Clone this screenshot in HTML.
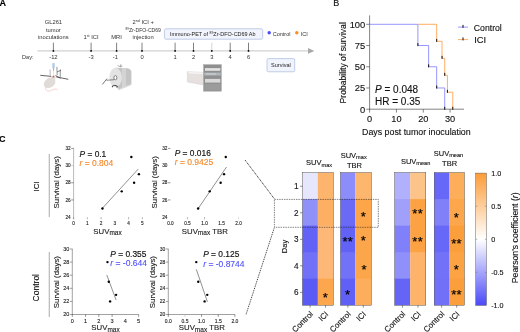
<!DOCTYPE html>
<html lang="en"><head><meta charset="utf-8"><title>Figure</title>
<style>html,body{margin:0;padding:0;background:#fff;}svg{display:block;filter:blur(0.4px);}text{font-family:"Liberation Sans", sans-serif;}</style>
</head><body>
<svg width="520" height="332" viewBox="0 0 520 332">
<rect width="520" height="332" fill="#fff"/>
<g id="panelA">
<text x="-0.5" y="6.0" font-size="9" text-anchor="start" fill="#000" font-weight="bold" stroke="#000" stroke-width="0.15">A</text>
<line x1="37.5" y1="50.9" x2="308.5" y2="50.9" stroke="#adadad" stroke-width="0.7"/>
<path d="M308 48 L314.4 50.9 L308 53.8 Z" fill="#a9a9a9"/>
<line x1="53.4" y1="42.7" x2="53.4" y2="50.9" stroke="#000" stroke-width="0.5"/>
<circle cx="53.4" cy="50.9" r="0.9" fill="#000"/>
<text x="53.4" y="58.6" font-size="5.8" text-anchor="middle" fill="#333">-12</text>
<line x1="91.1" y1="42.7" x2="91.1" y2="50.9" stroke="#000" stroke-width="0.5"/>
<circle cx="91.1" cy="50.9" r="0.9" fill="#000"/>
<text x="91.1" y="58.6" font-size="5.8" text-anchor="middle" fill="#333">-3</text>
<line x1="116.6" y1="42.7" x2="116.6" y2="50.9" stroke="#000" stroke-width="0.5"/>
<circle cx="116.6" cy="50.9" r="0.9" fill="#000"/>
<text x="115.4" y="58.6" font-size="5.8" text-anchor="middle" fill="#333">-1</text>
<line x1="142" y1="42.7" x2="142" y2="50.9" stroke="#000" stroke-width="0.5"/>
<circle cx="142" cy="50.9" r="0.9" fill="#000"/>
<text x="142" y="58.6" font-size="5.8" text-anchor="middle" fill="#333">0</text>
<line x1="175.1" y1="42.7" x2="175.1" y2="50.9" stroke="#000" stroke-width="0.5"/>
<circle cx="175.1" cy="50.9" r="0.9" fill="#000"/>
<text x="175.1" y="58.6" font-size="5.8" text-anchor="middle" fill="#333">1</text>
<line x1="193.5" y1="42.7" x2="193.5" y2="50.9" stroke="#000" stroke-width="0.5"/>
<circle cx="193.5" cy="50.9" r="0.9" fill="#000"/>
<text x="193.5" y="58.6" font-size="5.8" text-anchor="middle" fill="#333">2</text>
<line x1="211.8" y1="42.7" x2="211.8" y2="50.9" stroke="#aaa" stroke-width="0.5"/>
<circle cx="211.8" cy="50.9" r="0.9" fill="#000"/>
<text x="211.8" y="58.6" font-size="5.8" text-anchor="middle" fill="#333">3</text>
<line x1="230.2" y1="42.7" x2="230.2" y2="50.9" stroke="#000" stroke-width="0.5"/>
<circle cx="230.2" cy="50.9" r="0.9" fill="#000"/>
<text x="230.2" y="58.6" font-size="5.8" text-anchor="middle" fill="#333">4</text>
<line x1="248.5" y1="42.7" x2="248.5" y2="50.9" stroke="#000" stroke-width="0.5"/>
<circle cx="248.5" cy="50.9" r="0.9" fill="#000"/>
<text x="248.5" y="58.6" font-size="5.8" text-anchor="middle" fill="#333">6</text>
<text x="27.8" y="58.8" font-size="5.6" text-anchor="middle" fill="#333">Day:</text>
<text x="53.4" y="24.1" font-size="5.8" text-anchor="middle" fill="#333">GL261</text>
<text x="53.4" y="31.65" font-size="5.8" text-anchor="middle" fill="#333">tumor</text>
<text x="53.4" y="39.2" font-size="5.8" text-anchor="middle" fill="#333">inoculations</text>
<text x="91.1" y="39.2" font-size="5.8" text-anchor="middle" fill="#333">1<tspan font-size="3.6" dy="-2">st</tspan><tspan dy="2"> ICI</tspan></text>
<text x="116.6" y="39.2" font-size="5.8" text-anchor="middle" fill="#333">MRI</text>
<text x="143.2" y="24.1" font-size="5.8" text-anchor="middle" fill="#333">2<tspan font-size="3.6" dy="-2">nd</tspan><tspan dy="2"> ICI +</tspan></text>
<text x="143.2" y="31.65" font-size="5.8" text-anchor="middle" fill="#333" textLength="35.5" lengthAdjust="spacingAndGlyphs"><tspan font-size="3.6" dy="-2">89</tspan><tspan dy="2">Zr-DFO-CD69</tspan></text>
<text x="143.2" y="39.2" font-size="5.8" text-anchor="middle" fill="#333">injection</text>
<rect x="164.4" y="28.8" width="98.3" height="10.4" rx="1.6" fill="#f1f4fc" stroke="#a9badf" stroke-width="0.7"/>
<text x="170" y="36.2" font-size="5.8" text-anchor="start" fill="#222" textLength="85.5" lengthAdjust="spacingAndGlyphs">Immuno-PET of <tspan font-size="3.6" dy="-2">89</tspan><tspan dy="2">Zr-DFO-CD69 Ab</tspan></text>
<circle cx="269.2" cy="32.7" r="1.7" fill="#4a4aff"/>
<text x="272.7" y="35.6" font-size="5.5" text-anchor="start" fill="#333">Control</text>
<circle cx="296.8" cy="32.7" r="1.7" fill="#ff8a1f"/>
<text x="300.8" y="35.6" font-size="5.5" text-anchor="start" fill="#333">ICI</text>
<rect x="267" y="58.6" width="27.7" height="13.2" rx="1.4" fill="#f1f4fc" stroke="#a9badf" stroke-width="0.7"/>
<text x="280.9" y="67.2" font-size="5.5" text-anchor="middle" fill="#222">Survival</text>
<g id="mouse">
<path d="M45.4 87.2 C45.2 91.5,49 91.8,51.5 90.3 S56 88.8,57.6 89.8" stroke="#e9a59b" stroke-width="0.5" fill="none"/>
<ellipse cx="49.6" cy="82.8" rx="6.3" ry="4.7" fill="#e0dbd7" transform="rotate(-35 49.6 82.8)"/>
<ellipse cx="53.3" cy="78" rx="2.2" ry="2.6" fill="#e2ddd9" transform="rotate(20 53.3 78)"/>
<line x1="40.3" y1="75.3" x2="51.2" y2="76.4" stroke="#3c3c3c" stroke-width="0.8"/>
<line x1="56.3" y1="76.9" x2="68.3" y2="79.3" stroke="#3c3c3c" stroke-width="0.8"/>
<line x1="50" y1="69.4" x2="50.3" y2="75.8" stroke="#b9b9b9" stroke-width="1.0"/>
<line x1="56.9" y1="66.8" x2="57.2" y2="75.2" stroke="#9a9a9a" stroke-width="1.0"/>
<line x1="60.4" y1="69.4" x2="60.2" y2="77.4" stroke="#8a8a8a" stroke-width="0.9"/>
<line x1="57" y1="72" x2="61" y2="70.3" stroke="#555" stroke-width="0.7"/>
<line x1="55.5" y1="75.5" x2="60.5" y2="78.3" stroke="#444" stroke-width="0.8"/>
<rect x="52.4" y="63.1" width="2.2" height="5.3" fill="#a9c7e6"/>
<line x1="53.5" y1="68.3" x2="53.5" y2="70.8" stroke="#2a9d7a" stroke-width="0.6"/>
<line x1="53.5" y1="70.8" x2="53.5" y2="75.5" stroke="#c9c9c9" stroke-width="0.4"/>
<circle cx="53.4" cy="76.7" r="0.9" fill="#e2574c"/>
</g>
<g id="mri">
<path d="M115.6 67.8 L127.5 68.2 Q131.3 69.2 131.4 72 L131.4 84.6 L119.5 89.5 L115.6 87.2 Z" fill="#c4c4c4"/>
<path d="M122 68 L126 68.2 L126 86.5 L122 88 Z" fill="#d4d4d4"/>
<path d="M118.5 89.6 L130.6 84.6" stroke="#d9d9d9" stroke-width="1.2" fill="none"/>
<ellipse cx="115.6" cy="77.5" rx="6.3" ry="9.7" fill="#e3e3e3"/>
<ellipse cx="115.4" cy="77.7" rx="1.5" ry="2.1" fill="#fff" stroke="#3a3a3a" stroke-width="0.6"/>
<line x1="102.4" y1="84.4" x2="107" y2="78.6" stroke="#3a3a3a" stroke-width="0.7"/>
<line x1="106.4" y1="80.3" x2="114.2" y2="79.7" stroke="#3a3a3a" stroke-width="0.6"/>
<path d="M112.4 87.3 L112.4 86 Q114.8 84.8 117.2 86 L117.2 87.3" stroke="#333" stroke-width="0.9" fill="none"/>
<path d="M117.6 65.3 L119.6 66.6 M120.8 64.3 L120.8 67.3 M119.4 66.2 L122.4 66.2" stroke="#777" stroke-width="0.6" fill="none"/>
</g>
<g id="pet">
<path d="M187.4 71.7 L203.6 72.3 L203.6 84.9 L187.4 82 Z" fill="#e6e0df" stroke="#cbc5c4" stroke-width="0.4"/>
<path d="M187.6 72 L203.6 72.6 L203.6 74 L189.5 73.4 Z" fill="#f7f5f5"/>
<rect x="203.5" y="64.6" width="17.9" height="26.6" fill="#8f8f8f"/>
<rect x="203.5" y="64.6" width="17.9" height="26.6" fill="none" stroke="#a9a9a9" stroke-width="0.5"/>
<rect x="205" y="68.1" width="15.3" height="2.7" fill="#e3e3e3"/>
<rect x="204.2" y="72.6" width="16.6" height="2.9" fill="#aeb6ba"/>
<rect x="206" y="73.3" width="10" height="1.3" fill="#c9cdd0"/>
<rect x="205" y="78.9" width="15.3" height="3.7" fill="#d9d9d9"/>
<rect x="204.4" y="83.8" width="16.2" height="6.9" fill="#9b9b9b"/>
</g>
</g>
<g id="panelB">
<text x="333.2" y="6.3" font-size="9" text-anchor="start" fill="#111" stroke="#111" stroke-width="0.12">B</text>
<line x1="369.6" y1="15.4" x2="369.6" y2="109.5" stroke="#333" stroke-width="0.6"/>
<line x1="369.3" y1="109.2" x2="464" y2="109.2" stroke="#333" stroke-width="0.6"/>
<line x1="366.20000000000005" y1="109.2" x2="369.6" y2="109.2" stroke="#333" stroke-width="0.6"/>
<text x="365.3" y="112.55" font-size="9.4" text-anchor="end" fill="#111" stroke="#111" stroke-width="0.12">0</text>
<line x1="366.20000000000005" y1="87.97500000000001" x2="369.6" y2="87.97500000000001" stroke="#333" stroke-width="0.6"/>
<text x="365.3" y="91.33" font-size="9.4" text-anchor="end" fill="#111" stroke="#111" stroke-width="0.12">25</text>
<line x1="366.20000000000005" y1="66.75" x2="369.6" y2="66.75" stroke="#333" stroke-width="0.6"/>
<text x="365.3" y="70.1" font-size="9.4" text-anchor="end" fill="#111" stroke="#111" stroke-width="0.12">50</text>
<line x1="366.20000000000005" y1="45.525000000000006" x2="369.6" y2="45.525000000000006" stroke="#333" stroke-width="0.6"/>
<text x="365.3" y="48.88" font-size="9.4" text-anchor="end" fill="#111" stroke="#111" stroke-width="0.12">75</text>
<line x1="366.20000000000005" y1="24.30000000000001" x2="369.6" y2="24.30000000000001" stroke="#333" stroke-width="0.6"/>
<text x="365.3" y="27.65" font-size="9.4" text-anchor="end" fill="#111" stroke="#111" stroke-width="0.12">100</text>
<line x1="369.6" y1="109.2" x2="369.6" y2="112.60000000000001" stroke="#333" stroke-width="0.6"/>
<text x="369.6" y="122.0" font-size="9.2" text-anchor="middle" fill="#111" stroke="#111" stroke-width="0.12">0</text>
<line x1="396.43" y1="109.2" x2="396.43" y2="112.60000000000001" stroke="#333" stroke-width="0.6"/>
<text x="396.43" y="122.0" font-size="9.2" text-anchor="middle" fill="#111" stroke="#111" stroke-width="0.12">10</text>
<line x1="423.26" y1="109.2" x2="423.26" y2="112.60000000000001" stroke="#333" stroke-width="0.6"/>
<text x="423.26" y="122.0" font-size="9.2" text-anchor="middle" fill="#111" stroke="#111" stroke-width="0.12">20</text>
<line x1="450.09000000000003" y1="109.2" x2="450.09000000000003" y2="112.60000000000001" stroke="#333" stroke-width="0.6"/>
<text x="450.09" y="122.0" font-size="9.2" text-anchor="middle" fill="#111" stroke="#111" stroke-width="0.12">30</text>
<polyline fill="none" stroke="#ff9a3c" stroke-width="0.8" points="418.16,24.30 436.68,24.30 436.68,41.28 442.04,41.28 442.04,58.26 444.72,58.26 444.72,75.24 447.41,75.24 447.41,92.22 452.77,92.22 452.77,109.20"/>
<polyline fill="none" stroke="#7c7cff" stroke-width="0.8" points="369.60,24.30 417.89,24.30 417.89,45.53 428.63,45.53 428.63,66.75 436.68,66.75 436.68,87.98 444.72,87.98 444.72,109.20"/>
<rect x="417.39" y="43.13" width="1" height="3" fill="#111"/>
<rect x="428.13" y="64.35" width="1" height="3" fill="#111"/>
<rect x="436.18" y="85.58" width="1" height="3" fill="#111"/>
<rect x="444.22" y="106.80" width="1" height="3" fill="#111"/>
<rect x="436.18" y="38.88" width="1" height="3" fill="#111"/>
<rect x="441.54" y="55.86" width="1" height="3" fill="#111"/>
<rect x="444.22" y="72.84" width="1" height="3" fill="#111"/>
<rect x="446.91" y="89.82" width="1" height="3" fill="#111"/>
<rect x="452.27" y="106.80" width="1" height="3" fill="#111"/>
<line x1="458" y1="27.1" x2="468" y2="27.1" stroke="#7c7cff" stroke-width="0.8"/>
<rect x="462.5" y="24.9" width="1" height="3" fill="#111"/>
<line x1="458" y1="39.6" x2="468" y2="39.6" stroke="#ff9a3c" stroke-width="0.8"/>
<rect x="462.5" y="37.4" width="1" height="3" fill="#111"/>
<text x="473.8" y="30.5" font-size="8.7" text-anchor="start" fill="#111" stroke="#111" stroke-width="0.12">Control</text>
<text x="474.2" y="42.9" font-size="8.7" text-anchor="start" fill="#111" textLength="12" lengthAdjust="spacingAndGlyphs" stroke="#111" stroke-width="0.12">ICI</text>
<text x="375" y="92.8" font-size="10" text-anchor="start" fill="#111" stroke="#111" stroke-width="0.12"><tspan font-style="italic">P</tspan> = 0.048</text>
<text x="375" y="104.5" font-size="10" text-anchor="start" fill="#111" stroke="#111" stroke-width="0.12">HR = 0.35</text>
<text x="0" y="0" font-size="8.6" text-anchor="middle" fill="#111" transform="translate(346,62.8) rotate(-90)" stroke="#111" stroke-width="0.12">Probability of survival</text>
<text x="416.4" y="134.5" font-size="8.8" text-anchor="middle" fill="#111" stroke="#111" stroke-width="0.12">Days post tumor inoculation</text>
</g>
<g id="panelC">
<text x="-1.0" y="142.4" font-size="9" text-anchor="start" fill="#000" font-weight="bold" stroke="#000" stroke-width="0.12">C</text>
<text x="0" y="0" font-size="8" text-anchor="middle" fill="#111" transform="translate(39.1,186.3) rotate(-90)" stroke="#111" stroke-width="0.12">ICI</text>
<line x1="49.25" y1="154" x2="49.25" y2="217" stroke="#555" stroke-width="0.5"/>
<text x="0" y="0" font-size="8.5" text-anchor="middle" fill="#111" transform="translate(39,287.7) rotate(-90)" stroke="#111" stroke-width="0.12">Control</text>
<line x1="49.25" y1="252" x2="49.25" y2="317" stroke="#555" stroke-width="0.5"/>
<line x1="73.6" y1="148.15" x2="73.6" y2="219.2" stroke="#777" stroke-width="0.5"/>
<text x="70.6" y="218.79" font-size="4.7" text-anchor="end" fill="#222" stroke="#222" stroke-width="0.12">24</text>
<line x1="71.19999999999999" y1="199.925" x2="73.6" y2="199.925" stroke="#2a2a2a" stroke-width="0.5"/>
<text x="70.6" y="201.62" font-size="4.7" text-anchor="end" fill="#222" stroke="#222" stroke-width="0.12">26</text>
<line x1="71.19999999999999" y1="182.75" x2="73.6" y2="182.75" stroke="#2a2a2a" stroke-width="0.5"/>
<text x="70.6" y="184.44" font-size="4.7" text-anchor="end" fill="#222" stroke="#222" stroke-width="0.12">28</text>
<line x1="71.19999999999999" y1="165.575" x2="73.6" y2="165.575" stroke="#aaa" stroke-width="0.5"/>
<text x="70.6" y="167.27" font-size="4.7" text-anchor="end" fill="#222" stroke="#222" stroke-width="0.12">30</text>
<line x1="71.19999999999999" y1="148.4" x2="73.6" y2="148.4" stroke="#2a2a2a" stroke-width="0.5"/>
<text x="70.6" y="150.09" font-size="4.7" text-anchor="end" fill="#222" stroke="#222" stroke-width="0.12">32</text>
<line x1="73.6" y1="217.0" x2="73.6" y2="219.39999999999998" stroke="#777" stroke-width="0.5"/>
<text x="73.6" y="224.5" font-size="4.7" text-anchor="middle" fill="#222" stroke="#222" stroke-width="0.12">0</text>
<line x1="87.35" y1="217.0" x2="87.35" y2="219.39999999999998" stroke="#777" stroke-width="0.5"/>
<text x="87.35" y="224.5" font-size="4.7" text-anchor="middle" fill="#222" stroke="#222" stroke-width="0.12">1</text>
<line x1="101.1" y1="217.0" x2="101.1" y2="219.39999999999998" stroke="#777" stroke-width="0.5"/>
<text x="101.1" y="224.5" font-size="4.7" text-anchor="middle" fill="#222" stroke="#222" stroke-width="0.12">2</text>
<text x="114.85" y="224.5" font-size="4.7" text-anchor="middle" fill="#222" stroke="#222" stroke-width="0.12">3</text>
<line x1="128.6" y1="217.0" x2="128.6" y2="219.39999999999998" stroke="#777" stroke-width="0.5"/>
<text x="128.6" y="224.5" font-size="4.7" text-anchor="middle" fill="#222" stroke="#222" stroke-width="0.12">4</text>
<line x1="142.35" y1="217.0" x2="142.35" y2="219.39999999999998" stroke="#777" stroke-width="0.5"/>
<text x="142.35" y="224.5" font-size="4.7" text-anchor="middle" fill="#222" stroke="#222" stroke-width="0.12">5</text>
<line x1="101.6" y1="209.1" x2="138.2" y2="169.1" stroke="#222" stroke-width="0.5"/>
<circle cx="102.47" cy="208.51" r="1.2" fill="#000"/>
<circle cx="121.72" cy="191.34" r="1.2" fill="#000"/>
<circle cx="134.10" cy="182.75" r="1.2" fill="#000"/>
<circle cx="138.91" cy="174.16" r="1.2" fill="#000"/>
<circle cx="131.35" cy="156.99" r="1.2" fill="#000"/>
<text x="107.5" y="233.6" font-size="7.8" text-anchor="middle" fill="#222" stroke="#222" stroke-width="0.12">SUV<tspan font-size="6.5" dy="1.6">max</tspan></text>
<text x="79.5" y="157.3" font-size="8.4" text-anchor="start" fill="#111" stroke="#111" stroke-width="0.15"><tspan font-style="italic">P</tspan> = 0.1</text>
<text x="79.5" y="166" font-size="8.5" text-anchor="start" fill="#f5882a" stroke="#f5882a" stroke-width="0.12"><tspan font-style="italic">r</tspan> = 0.804</text>
<text x="0" y="0" font-size="7.9" text-anchor="middle" fill="#222" transform="translate(59.0,182.3) rotate(-90)" stroke="#222" stroke-width="0.12">Survival (days)</text>
<text x="167.4" y="218.79" font-size="4.7" text-anchor="end" fill="#222" stroke="#222" stroke-width="0.12">24</text>
<line x1="168.0" y1="199.925" x2="170.4" y2="199.925" stroke="#2a2a2a" stroke-width="0.5"/>
<text x="167.4" y="201.62" font-size="4.7" text-anchor="end" fill="#222" stroke="#222" stroke-width="0.12">26</text>
<line x1="168.0" y1="182.75" x2="170.4" y2="182.75" stroke="#2a2a2a" stroke-width="0.5"/>
<text x="167.4" y="184.44" font-size="4.7" text-anchor="end" fill="#222" stroke="#222" stroke-width="0.12">28</text>
<text x="167.4" y="167.27" font-size="4.7" text-anchor="end" fill="#222" stroke="#222" stroke-width="0.12">30</text>
<line x1="168.0" y1="148.4" x2="170.4" y2="148.4" stroke="#2a2a2a" stroke-width="0.5"/>
<text x="167.4" y="150.09" font-size="4.7" text-anchor="end" fill="#222" stroke="#222" stroke-width="0.12">32</text>
<text x="170.4" y="224.5" font-size="4.7" text-anchor="middle" fill="#222" stroke="#222" stroke-width="0.12">0.0</text>
<line x1="187.45000000000002" y1="217.0" x2="187.45000000000002" y2="219.39999999999998" stroke="#777" stroke-width="0.5"/>
<text x="187.45" y="224.5" font-size="4.7" text-anchor="middle" fill="#222" stroke="#222" stroke-width="0.12">0.5</text>
<line x1="204.5" y1="217.0" x2="204.5" y2="219.39999999999998" stroke="#777" stroke-width="0.5"/>
<text x="204.5" y="224.5" font-size="4.7" text-anchor="middle" fill="#222" stroke="#222" stroke-width="0.12">1.0</text>
<text x="221.55" y="224.5" font-size="4.7" text-anchor="middle" fill="#222" stroke="#222" stroke-width="0.12">1.5</text>
<line x1="238.60000000000002" y1="217.0" x2="238.60000000000002" y2="219.39999999999998" stroke="#bbb" stroke-width="0.5"/>
<text x="238.6" y="224.5" font-size="4.7" text-anchor="middle" fill="#222" stroke="#222" stroke-width="0.12">2.0</text>
<line x1="197.8" y1="209.1" x2="226.5" y2="167" stroke="#222" stroke-width="0.5"/>
<circle cx="198.14" cy="208.51" r="1.2" fill="#000"/>
<circle cx="209.73" cy="191.34" r="1.2" fill="#000"/>
<circle cx="220.65" cy="182.75" r="1.2" fill="#000"/>
<circle cx="224.06" cy="174.16" r="1.2" fill="#000"/>
<circle cx="225.76" cy="156.99" r="1.2" fill="#000"/>
<text x="204.8" y="233.6" font-size="7.8" text-anchor="middle" fill="#222" stroke="#222" stroke-width="0.12">SUV<tspan font-size="6.5" dy="1.6">max</tspan><tspan dy="-1.6"> TBR</tspan></text>
<text x="174.7" y="155.6" font-size="8.4" text-anchor="start" fill="#111" stroke="#111" stroke-width="0.15"><tspan font-style="italic">P</tspan> = 0.016</text>
<text x="174.7" y="164.7" font-size="8.5" text-anchor="start" fill="#f5882a" stroke="#f5882a" stroke-width="0.12"><tspan font-style="italic">r</tspan> = 0.9425</text>
<text x="0" y="0" font-size="7.9" text-anchor="middle" fill="#222" transform="translate(156.5,182.3) rotate(-90)" stroke="#222" stroke-width="0.12">Survival (days)</text>
<line x1="72.3" y1="248.75" x2="72.3" y2="314.75" stroke="#444" stroke-width="0.5"/>
<line x1="69.89999999999999" y1="314.5" x2="72.3" y2="314.5" stroke="#444" stroke-width="0.5"/>
<text x="69.3" y="316.48" font-size="5.5" text-anchor="end" fill="#222" stroke="#222" stroke-width="0.12">20</text>
<line x1="69.89999999999999" y1="301.4" x2="72.3" y2="301.4" stroke="#444" stroke-width="0.5"/>
<text x="69.3" y="303.38" font-size="5.5" text-anchor="end" fill="#222" stroke="#222" stroke-width="0.12">22</text>
<line x1="69.89999999999999" y1="288.3" x2="72.3" y2="288.3" stroke="#444" stroke-width="0.5"/>
<text x="69.3" y="290.28" font-size="5.5" text-anchor="end" fill="#222" stroke="#222" stroke-width="0.12">24</text>
<line x1="69.89999999999999" y1="275.2" x2="72.3" y2="275.2" stroke="#444" stroke-width="0.5"/>
<text x="69.3" y="277.18" font-size="5.5" text-anchor="end" fill="#222" stroke="#222" stroke-width="0.12">26</text>
<line x1="69.89999999999999" y1="262.1" x2="72.3" y2="262.1" stroke="#444" stroke-width="0.5"/>
<text x="69.3" y="264.08" font-size="5.5" text-anchor="end" fill="#222" stroke="#222" stroke-width="0.12">28</text>
<line x1="69.89999999999999" y1="249.0" x2="72.3" y2="249.0" stroke="#444" stroke-width="0.5"/>
<text x="69.3" y="250.98" font-size="5.5" text-anchor="end" fill="#222" stroke="#222" stroke-width="0.12">30</text>
<line x1="72.05" y1="314.5" x2="138.7" y2="314.5" stroke="#444" stroke-width="0.5"/>
<line x1="72.3" y1="314.5" x2="72.3" y2="316.9" stroke="#2a2a2a" stroke-width="0.5"/>
<text x="72.3" y="322.8" font-size="5.5" text-anchor="middle" fill="#222" stroke="#222" stroke-width="0.12">0</text>
<line x1="85.57" y1="314.5" x2="85.57" y2="316.9" stroke="#2a2a2a" stroke-width="0.5"/>
<text x="85.57" y="322.8" font-size="5.5" text-anchor="middle" fill="#222" stroke="#222" stroke-width="0.12">1</text>
<line x1="98.84" y1="314.5" x2="98.84" y2="316.9" stroke="#2a2a2a" stroke-width="0.5"/>
<text x="98.84" y="322.8" font-size="5.5" text-anchor="middle" fill="#222" stroke="#222" stroke-width="0.12">2</text>
<line x1="112.11" y1="314.5" x2="112.11" y2="316.9" stroke="#2a2a2a" stroke-width="0.5"/>
<text x="112.11" y="322.8" font-size="5.5" text-anchor="middle" fill="#222" stroke="#222" stroke-width="0.12">3</text>
<text x="125.38" y="322.8" font-size="5.5" text-anchor="middle" fill="#222" stroke="#222" stroke-width="0.12">4</text>
<line x1="138.64999999999998" y1="314.5" x2="138.64999999999998" y2="316.9" stroke="#2a2a2a" stroke-width="0.5"/>
<text x="138.65" y="322.8" font-size="5.5" text-anchor="middle" fill="#222" stroke="#222" stroke-width="0.12">5</text>
<line x1="106.8" y1="275" x2="116.1" y2="300" stroke="#222" stroke-width="0.5"/>
<circle cx="107.47" cy="262.10" r="1.2" fill="#000"/>
<circle cx="108.79" cy="281.75" r="1.2" fill="#000"/>
<circle cx="116.09" cy="294.85" r="1.2" fill="#000"/>
<circle cx="110.12" cy="301.40" r="1.2" fill="#000"/>
<text x="105.5" y="330.3" font-size="7.8" text-anchor="middle" fill="#222" stroke="#222" stroke-width="0.12">SUV<tspan font-size="6.5" dy="1.6">max</tspan></text>
<text x="110.3" y="256.7" font-size="8.4" text-anchor="start" fill="#111" stroke="#111" stroke-width="0.15"><tspan font-style="italic">P</tspan> = 0.355</text>
<text x="110.3" y="266" font-size="8.5" text-anchor="start" fill="#5252ff" stroke="#5252ff" stroke-width="0.12"><tspan font-style="italic">r</tspan> = -0.644</text>
<text x="0" y="0" font-size="7.9" text-anchor="middle" fill="#222" transform="translate(59.1,282.1) rotate(-90)" stroke="#222" stroke-width="0.12">Survival (days)</text>
<line x1="168.3" y1="248.75" x2="168.3" y2="314.75" stroke="#444" stroke-width="0.5"/>
<line x1="165.9" y1="314.5" x2="168.3" y2="314.5" stroke="#444" stroke-width="0.5"/>
<text x="165.3" y="316.3" font-size="5.0" text-anchor="end" fill="#222" stroke="#222" stroke-width="0.12">20</text>
<line x1="165.9" y1="301.4" x2="168.3" y2="301.4" stroke="#444" stroke-width="0.5"/>
<text x="165.3" y="303.2" font-size="5.0" text-anchor="end" fill="#222" stroke="#222" stroke-width="0.12">22</text>
<line x1="165.9" y1="288.3" x2="168.3" y2="288.3" stroke="#444" stroke-width="0.5"/>
<text x="165.3" y="290.1" font-size="5.0" text-anchor="end" fill="#222" stroke="#222" stroke-width="0.12">24</text>
<line x1="165.9" y1="275.2" x2="168.3" y2="275.2" stroke="#444" stroke-width="0.5"/>
<text x="165.3" y="277.0" font-size="5.0" text-anchor="end" fill="#222" stroke="#222" stroke-width="0.12">26</text>
<line x1="165.9" y1="262.1" x2="168.3" y2="262.1" stroke="#444" stroke-width="0.5"/>
<text x="165.3" y="263.9" font-size="5.0" text-anchor="end" fill="#222" stroke="#222" stroke-width="0.12">28</text>
<line x1="165.9" y1="249.0" x2="168.3" y2="249.0" stroke="#444" stroke-width="0.5"/>
<text x="165.3" y="250.8" font-size="5.0" text-anchor="end" fill="#222" stroke="#222" stroke-width="0.12">30</text>
<line x1="168.05" y1="314.5" x2="235" y2="314.5" stroke="#444" stroke-width="0.5"/>
<line x1="168.3" y1="314.5" x2="168.3" y2="316.9" stroke="#2a2a2a" stroke-width="0.5"/>
<text x="168.3" y="322.8" font-size="5.0" text-anchor="middle" fill="#222" stroke="#222" stroke-width="0.12">0.0</text>
<line x1="184.95000000000002" y1="314.5" x2="184.95000000000002" y2="316.9" stroke="#aaa" stroke-width="0.5"/>
<text x="184.95" y="322.8" font-size="5.0" text-anchor="middle" fill="#222" stroke="#222" stroke-width="0.12">0.5</text>
<line x1="201.60000000000002" y1="314.5" x2="201.60000000000002" y2="316.9" stroke="#2a2a2a" stroke-width="0.5"/>
<text x="201.6" y="322.8" font-size="5.0" text-anchor="middle" fill="#222" stroke="#222" stroke-width="0.12">1.0</text>
<line x1="218.25" y1="314.5" x2="218.25" y2="316.9" stroke="#2a2a2a" stroke-width="0.5"/>
<text x="218.25" y="322.8" font-size="5.0" text-anchor="middle" fill="#222" stroke="#222" stroke-width="0.12">1.5</text>
<line x1="234.9" y1="314.5" x2="234.9" y2="316.9" stroke="#2a2a2a" stroke-width="0.5"/>
<text x="234.9" y="322.8" font-size="5.0" text-anchor="middle" fill="#222" stroke="#222" stroke-width="0.12">2.0</text>
<line x1="196.3" y1="269.3" x2="207.4" y2="301.8" stroke="#222" stroke-width="0.5"/>
<circle cx="196.27" cy="262.10" r="1.2" fill="#000"/>
<circle cx="198.27" cy="281.75" r="1.2" fill="#000"/>
<circle cx="207.26" cy="294.85" r="1.2" fill="#000"/>
<circle cx="204.60" cy="301.40" r="1.2" fill="#000"/>
<text x="201.8" y="329.9" font-size="7.8" text-anchor="middle" fill="#222" stroke="#222" stroke-width="0.12">SUV<tspan font-size="6.5" dy="1.6">max</tspan><tspan dy="-1.6"> TBR</tspan></text>
<text x="203.2" y="257.3" font-size="8.4" text-anchor="start" fill="#111" stroke="#111" stroke-width="0.15"><tspan font-style="italic">P</tspan> = 0.125</text>
<text x="203.2" y="266.7" font-size="8.5" text-anchor="start" fill="#5252ff" stroke="#5252ff" stroke-width="0.12"><tspan font-style="italic">r</tspan> = -0.8744</text>
<text x="0" y="0" font-size="7.9" text-anchor="middle" fill="#222" transform="translate(154.7,282.1) rotate(-90)" stroke="#222" stroke-width="0.12">Survival (days)</text>
<line x1="245.1" y1="160.1" x2="274.5" y2="199" stroke="#111" stroke-width="0.85" stroke-dasharray="1.1 0.7"/>
<line x1="246.1" y1="314.3" x2="274.4" y2="227.4" stroke="#111" stroke-width="0.85" stroke-dasharray="1 0.9"/>
<rect x="302.5" y="172.60" width="15.40" height="27.52" fill="#e6e6fc"/>
<rect x="317.8" y="172.60" width="15.50" height="27.52" fill="#fdb56e"/>
<rect x="302.5" y="199.12" width="15.40" height="27.52" fill="#9090f9"/>
<rect x="317.8" y="199.12" width="15.50" height="27.52" fill="#fdb062"/>
<rect x="302.5" y="225.64" width="15.40" height="27.52" fill="#6262f6"/>
<rect x="317.8" y="225.64" width="15.50" height="27.52" fill="#fdb877"/>
<rect x="302.5" y="252.16" width="15.40" height="27.52" fill="#7070f8"/>
<rect x="317.8" y="252.16" width="15.50" height="27.52" fill="#fdb877"/>
<rect x="302.5" y="278.68" width="15.40" height="26.52" fill="#5a5af4"/>
<rect x="317.8" y="278.68" width="15.50" height="26.52" fill="#fca74d"/>
<rect x="302.5" y="172.6" width="30.80" height="132.60" fill="none" stroke="#333" stroke-width="0.4"/>
<line x1="310.15" y1="305.2" x2="310.15" y2="307.7" stroke="#222" stroke-width="0.5"/>
<text x="0" y="0" font-size="8.0" text-anchor="end" fill="#111" transform="translate(313.55,314.60) rotate(-45)" stroke="#111" stroke-width="0.12">Control</text>
<line x1="325.55" y1="305.2" x2="325.55" y2="307.7" stroke="#222" stroke-width="0.5"/>
<text x="0" y="0" font-size="8.0" text-anchor="end" fill="#111" transform="translate(328.95,314.60) rotate(-45)" stroke="#111" stroke-width="0.12">ICI</text>
<rect x="340.5" y="172.60" width="14.80" height="27.52" fill="#8c8cfa"/>
<rect x="355.2" y="172.60" width="16.10" height="27.52" fill="#fdb66e"/>
<rect x="340.5" y="199.12" width="14.80" height="27.52" fill="#6a6af6"/>
<rect x="355.2" y="199.12" width="16.10" height="27.52" fill="#fca549"/>
<rect x="340.5" y="225.64" width="14.80" height="27.52" fill="#6262f6"/>
<rect x="355.2" y="225.64" width="16.10" height="27.52" fill="#fca64b"/>
<rect x="340.5" y="252.16" width="14.80" height="27.52" fill="#7272f8"/>
<rect x="355.2" y="252.16" width="16.10" height="27.52" fill="#fca64b"/>
<rect x="340.5" y="278.68" width="14.80" height="26.52" fill="#6060f6"/>
<rect x="355.2" y="278.68" width="16.10" height="26.52" fill="#fdae5c"/>
<rect x="340.5" y="172.6" width="30.80" height="132.60" fill="none" stroke="#333" stroke-width="0.4"/>
<line x1="347.85" y1="305.2" x2="347.85" y2="307.7" stroke="#222" stroke-width="0.5"/>
<text x="0" y="0" font-size="8.0" text-anchor="end" fill="#111" transform="translate(351.25,314.60) rotate(-45)" stroke="#111" stroke-width="0.12">Control</text>
<line x1="363.25" y1="305.2" x2="363.25" y2="307.7" stroke="#222" stroke-width="0.5"/>
<text x="0" y="0" font-size="8.0" text-anchor="end" fill="#111" transform="translate(366.65,314.60) rotate(-45)" stroke="#111" stroke-width="0.12">ICI</text>
<rect x="394.7" y="172.60" width="15.60" height="27.52" fill="#b0b0fc"/>
<rect x="410.2" y="172.60" width="15.60" height="27.52" fill="#fdc48a"/>
<rect x="394.7" y="199.12" width="15.60" height="27.52" fill="#a0a0fa"/>
<rect x="410.2" y="199.12" width="15.60" height="27.52" fill="#fca243"/>
<rect x="394.7" y="225.64" width="15.60" height="27.52" fill="#8080fa"/>
<rect x="410.2" y="225.64" width="15.60" height="27.52" fill="#fca243"/>
<rect x="394.7" y="252.16" width="15.60" height="27.52" fill="#9090fa"/>
<rect x="410.2" y="252.16" width="15.60" height="27.52" fill="#fdb36a"/>
<rect x="394.7" y="278.68" width="15.60" height="26.52" fill="#6464f6"/>
<rect x="410.2" y="278.68" width="15.60" height="26.52" fill="#fdb36a"/>
<rect x="394.7" y="172.6" width="31.10" height="132.60" fill="none" stroke="#333" stroke-width="0.4"/>
<line x1="402.45" y1="305.2" x2="402.45" y2="307.7" stroke="#222" stroke-width="0.5"/>
<text x="0" y="0" font-size="8.0" text-anchor="end" fill="#111" transform="translate(405.85,314.60) rotate(-45)" stroke="#111" stroke-width="0.12">Control</text>
<line x1="418.0" y1="305.2" x2="418.0" y2="307.7" stroke="#222" stroke-width="0.5"/>
<text x="0" y="0" font-size="8.0" text-anchor="end" fill="#111" transform="translate(421.40,314.60) rotate(-45)" stroke="#111" stroke-width="0.12">ICI</text>
<rect x="434.2" y="172.60" width="14.90" height="27.52" fill="#6868f8"/>
<rect x="449" y="172.60" width="15.40" height="27.52" fill="#fdae5a"/>
<rect x="434.2" y="199.12" width="14.90" height="27.52" fill="#8080f8"/>
<rect x="449" y="199.12" width="15.40" height="27.52" fill="#fca74c"/>
<rect x="434.2" y="225.64" width="14.90" height="27.52" fill="#6868f8"/>
<rect x="449" y="225.64" width="15.40" height="27.52" fill="#fb9f3c"/>
<rect x="434.2" y="252.16" width="14.90" height="27.52" fill="#7272f8"/>
<rect x="449" y="252.16" width="15.40" height="27.52" fill="#fca344"/>
<rect x="434.2" y="278.68" width="14.90" height="26.52" fill="#7070f8"/>
<rect x="449" y="278.68" width="15.40" height="26.52" fill="#fb9f3c"/>
<rect x="434.2" y="172.6" width="30.20" height="132.60" fill="none" stroke="#333" stroke-width="0.4"/>
<line x1="441.6" y1="305.2" x2="441.6" y2="307.7" stroke="#222" stroke-width="0.5"/>
<text x="0" y="0" font-size="8.0" text-anchor="end" fill="#111" transform="translate(445.00,314.60) rotate(-45)" stroke="#111" stroke-width="0.12">Control</text>
<line x1="456.7" y1="305.2" x2="456.7" y2="307.7" stroke="#222" stroke-width="0.5"/>
<text x="0" y="0" font-size="8.0" text-anchor="end" fill="#111" transform="translate(460.10,314.60) rotate(-45)" stroke="#111" stroke-width="0.12">ICI</text>
<line x1="300" y1="186.26" x2="302.5" y2="186.26" stroke="#222" stroke-width="0.5"/>
<text x="298.6" y="189.26" font-size="8.2" text-anchor="end" fill="#111" stroke="#111" stroke-width="0.12">1</text>
<line x1="300" y1="212.78" x2="302.5" y2="212.78" stroke="#222" stroke-width="0.5"/>
<text x="298.6" y="215.78" font-size="8.2" text-anchor="end" fill="#111" stroke="#111" stroke-width="0.12">2</text>
<line x1="300" y1="239.29999999999998" x2="302.5" y2="239.29999999999998" stroke="#222" stroke-width="0.5"/>
<text x="298.6" y="242.3" font-size="8.2" text-anchor="end" fill="#111" stroke="#111" stroke-width="0.12">3</text>
<line x1="300" y1="265.81999999999994" x2="302.5" y2="265.81999999999994" stroke="#222" stroke-width="0.5"/>
<text x="298.6" y="268.82" font-size="8.2" text-anchor="end" fill="#111" stroke="#111" stroke-width="0.12">4</text>
<line x1="300" y1="292.34" x2="302.5" y2="292.34" stroke="#222" stroke-width="0.5"/>
<text x="298.6" y="295.34" font-size="8.2" text-anchor="end" fill="#111" stroke="#111" stroke-width="0.12">6</text>
<text x="0" y="0" font-size="7.6" text-anchor="middle" fill="#111" transform="translate(287.2,246.5) rotate(-90)" stroke="#111" stroke-width="0.12">Day</text>
<rect x="274.4" y="199.4" width="103.9" height="27.9" fill="none" stroke="#222" stroke-width="0.55" stroke-dasharray="1.5 0.9"/>
<text x="319.1" y="165.3" font-size="7.5" text-anchor="middle" fill="#111" stroke="#111" stroke-width="0.12">SUV<tspan font-size="5.6" dy="1.3">max</tspan></text>
<text x="353.7" y="157.5" font-size="7.5" text-anchor="middle" fill="#111" stroke="#111" stroke-width="0.12">SUV<tspan font-size="5.6" dy="1.3">max</tspan></text>
<text x="354.4" y="168.4" font-size="7.5" text-anchor="middle" fill="#111" stroke="#111" stroke-width="0.12">TBR</text>
<text x="415.6" y="163.6" font-size="7.5" text-anchor="middle" fill="#111" stroke="#111" stroke-width="0.12">SUV<tspan font-size="5.6" dy="1.3">mean</tspan></text>
<text x="448.5" y="155.9" font-size="7.5" text-anchor="middle" fill="#111" stroke="#111" stroke-width="0.12">SUV<tspan font-size="5.6" dy="1.3">mean</tspan></text>
<text x="449.6" y="166.1" font-size="7.5" text-anchor="middle" fill="#111" stroke="#111" stroke-width="0.12">TBR</text>
<text x="325.4" y="301.57" font-size="13" text-anchor="middle" fill="#000" stroke="#000" stroke-width="0.2" letter-spacing="0.3">*</text>
<text x="347.8" y="245.97" font-size="13" text-anchor="middle" fill="#000" stroke="#000" stroke-width="0.2" letter-spacing="0.3">**</text>
<text x="363.4" y="220.67" font-size="13" text-anchor="middle" fill="#000" stroke="#000" stroke-width="0.2" letter-spacing="0.3">*</text>
<text x="363.4" y="245.27" font-size="13" text-anchor="middle" fill="#000" stroke="#000" stroke-width="0.2" letter-spacing="0.3">*</text>
<text x="364.1" y="274.37" font-size="13" text-anchor="middle" fill="#000" stroke="#000" stroke-width="0.2" letter-spacing="0.3">*</text>
<text x="347.8" y="299.37" font-size="13" text-anchor="middle" fill="#000" stroke="#000" stroke-width="0.2" letter-spacing="0.3">*</text>
<text x="417.7" y="218.27" font-size="13" text-anchor="middle" fill="#000" stroke="#000" stroke-width="0.2" letter-spacing="0.3">**</text>
<text x="417.7" y="245.97" font-size="13" text-anchor="middle" fill="#000" stroke="#000" stroke-width="0.2" letter-spacing="0.3">**</text>
<text x="456.5" y="222.47" font-size="13" text-anchor="middle" fill="#000" stroke="#000" stroke-width="0.2" letter-spacing="0.3">*</text>
<text x="456.5" y="248.47" font-size="13" text-anchor="middle" fill="#000" stroke="#000" stroke-width="0.2" letter-spacing="0.3">**</text>
<text x="456.5" y="274.37" font-size="13" text-anchor="middle" fill="#000" stroke="#000" stroke-width="0.2" letter-spacing="0.3">*</text>
<text x="456.5" y="299.37" font-size="13" text-anchor="middle" fill="#000" stroke="#000" stroke-width="0.2" letter-spacing="0.3">**</text>
<defs><linearGradient id="cb" x1="0" y1="0" x2="0" y2="1"><stop offset="0" stop-color="#fc9c38"/><stop offset="0.5" stop-color="#ffffff"/><stop offset="1" stop-color="#4a4af8"/></linearGradient></defs>
<rect x="475.7" y="173.1" width="10.8" height="132.30" fill="url(#cb)" stroke="#555" stroke-width="0.45"/>
<text x="491.2" y="175.9" font-size="7.2" text-anchor="start" fill="#111" stroke="#111" stroke-width="0.12">1.0</text>
<line x1="475.7" y1="206.17499999999998" x2="477.3" y2="206.17499999999998" stroke="#666" stroke-width="0.5"/>
<line x1="484.9" y1="206.17499999999998" x2="486.5" y2="206.17499999999998" stroke="#666" stroke-width="0.5"/>
<text x="491.2" y="208.97" font-size="7.2" text-anchor="start" fill="#111" stroke="#111" stroke-width="0.12">0.5</text>
<line x1="475.7" y1="239.25" x2="477.3" y2="239.25" stroke="#666" stroke-width="0.5"/>
<line x1="484.9" y1="239.25" x2="486.5" y2="239.25" stroke="#666" stroke-width="0.5"/>
<text x="491.2" y="242.05" font-size="7.2" text-anchor="start" fill="#111" stroke="#111" stroke-width="0.12">0</text>
<line x1="475.7" y1="272.325" x2="477.3" y2="272.325" stroke="#666" stroke-width="0.5"/>
<line x1="484.9" y1="272.325" x2="486.5" y2="272.325" stroke="#666" stroke-width="0.5"/>
<text x="491.2" y="275.12" font-size="7.2" text-anchor="start" fill="#111" stroke="#111" stroke-width="0.12">-0.5</text>
<text x="491.2" y="308.2" font-size="7.2" text-anchor="start" fill="#111" stroke="#111" stroke-width="0.12">-1.0</text>
<text x="0" y="0" font-size="8.7" text-anchor="middle" fill="#111" transform="translate(518.3,237.8) rotate(-90)" stroke="#111" stroke-width="0.12">Pearson's coefficient (<tspan font-style="italic">r</tspan>)</text>
</g>
</svg></body></html>
